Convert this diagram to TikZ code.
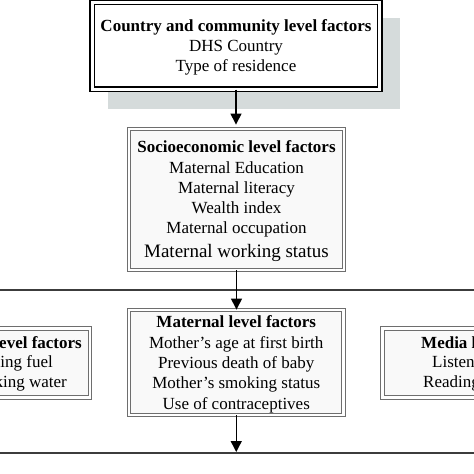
\documentclass[tikz,border=0pt]{standalone}
\usepackage{fontspec}
\setmainfont{Liberation Serif}
\usetikzlibrary{arrows.meta}
\definecolor{shadowgray}{HTML}{D5DBDB}
\definecolor{framegray}{HTML}{6E6E6E}
\definecolor{rulegray}{HTML}{3C3C3C}
\definecolor{boxfill}{HTML}{F9F9F9}
\begin{document}
\begin{tikzpicture}[x=1pt,y=-1pt,
  topbox/.style={rectangle, draw=black, line width=1.3pt, double=white, double distance=3pt, fill=white, inner sep=0pt},
  graybox/.style={rectangle, draw=framegray, line width=0.9pt, double=white, double distance=2.8pt, fill=boxfill, inner sep=0pt},
  ln/.style={inner sep=0pt, anchor=base, font=\fontsize{17}{20}\selectfont},
  hd/.style={inner sep=0pt, anchor=base, font=\fontsize{17}{20}\selectfont\bfseries},
  arr/.style={-{Triangle[length=11pt,width=11pt]}, line width=1.4pt, black},
  rule/.style={draw=rulegray, line width=1.6pt}]
\useasboundingbox (0,0) rectangle (474,474);
\clip (0,0) rectangle (474,474);
\fill[white] (0,0) rectangle (474,474);
% shadow behind the top box
\node[fill=shadowgray, minimum width=292pt, minimum height=91pt, inner sep=0pt] (shadow) at (254,63.5) {};
% top box
\node[topbox, minimum width=287.6pt, minimum height=86.5pt] (top) at (236,45.75) {};
\node[hd] (t1) at (236,31) {Country and community level factors};
\node[ln] (t2) at (236,51.5) {DHS Country};
\node[ln] (t3) at (236,71) {Type of residence};
% socioeconomic box
\node[graybox, minimum width=215pt, minimum height=141pt] (socio) at (236.5,199.5) {};
\node[hd] (s1) at (236.5,152) {Socioeconomic level factors};
\node[ln] (s2) at (236.5,173) {Maternal Education};
\node[ln] (s3) at (236.5,193) {Maternal literacy};
\node[ln] (s4) at (236.5,213) {Wealth index};
\node[ln] (s5) at (236.5,233) {Maternal occupation};
\node[ln, font=\fontsize{19}{22}\selectfont] (s6) at (236.5,257) {Maternal working status};
% horizontal rules
\coordinate (r1a) at (-5,290);
\coordinate (r1b) at (479,290);
\coordinate (r2a) at (-5,453);
\coordinate (r2b) at (479,453);
\draw[rule] (r1a) -- (r1b);
\draw[rule] (r2a) -- (r2b);
% maternal box
\node[graybox, minimum width=214.5pt, minimum height=105pt] (mat) at (236.25,362.5) {};
\node[hd] (m1) at (236.25,327) {Maternal level factors};
\node[ln] (m2) at (236.25,348) {Mother's age at first birth};
\node[ln] (m3) at (236.25,368) {Previous death of baby};
\node[ln] (m4) at (236.25,388.5) {Mother's smoking status};
\node[ln] (m5) at (236.25,409) {Use of contraceptives};
% left box (cut off)
\node[graybox, minimum width=200pt, minimum height=69pt] (left) at (-10,363) {};
\node[hd, anchor=base east] (l1) at (82,348) {evel factors};
\node[ln, anchor=base east] (l2) at (53,367) {ing fuel};
\node[ln, anchor=base east] (l3) at (67,387) {king water};
% right box (cut off)
\node[graybox, minimum width=200pt, minimum height=69pt] (right) at (482.5,363) {};
\node[hd, anchor=base west] (g1) at (421,348) {Media l};
\node[ln, anchor=base west] (g2) at (432,367) {Listen};
\node[ln, anchor=base west] (g3) at (423,387) {Reading};
% connectors
\coordinate (bot) at (236.25,452);
\draw[arr, shorten >=4pt] (top.south) -- (top.south |- socio.north);
\draw[arr] (socio.south) -- (socio.south |- mat.north);
\draw[arr] (mat.south) -- (bot);
\end{tikzpicture}
\end{document}
